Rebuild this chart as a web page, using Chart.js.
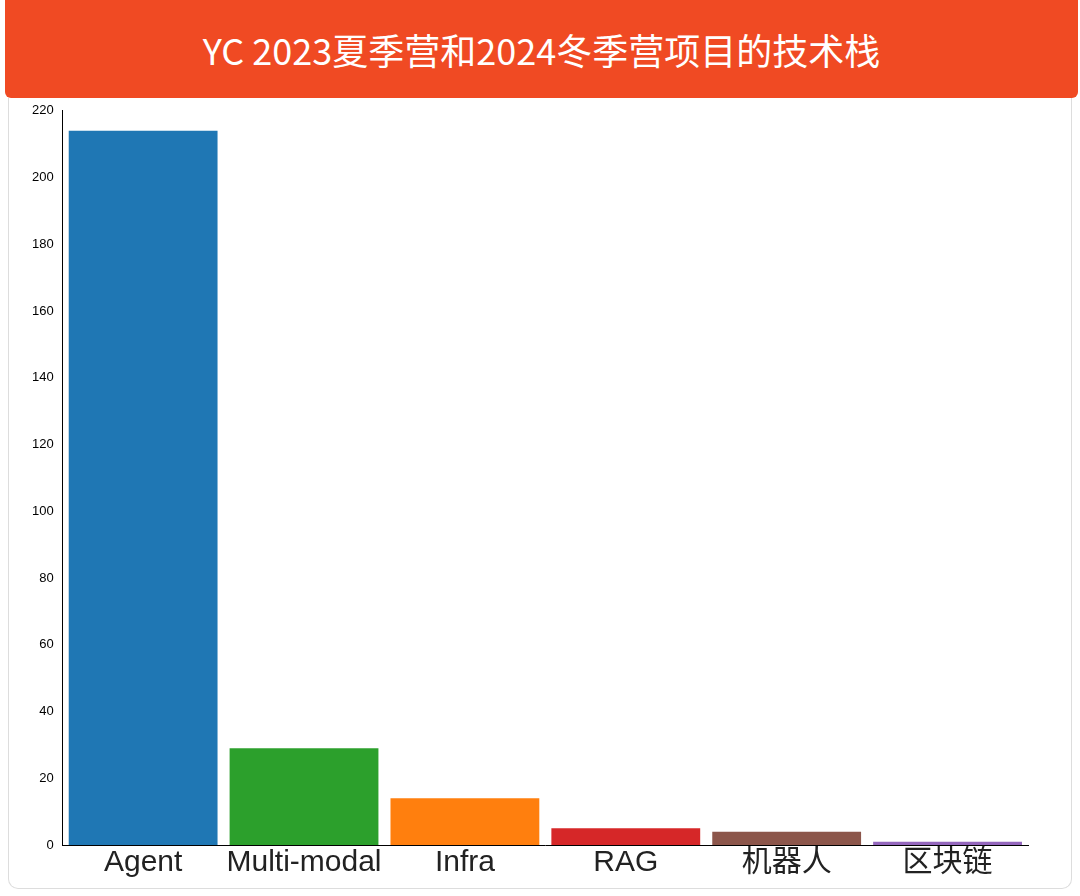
<!DOCTYPE html>
<html><head><meta charset="utf-8">
<script src="https://cdn.jsdelivr.net/npm/chart.js@4"></script>
<style>
body{margin:0;background:#fff;width:1080px;height:896px;overflow:hidden;font-family:"Noto Sans CJK SC",sans-serif}
#title{position:absolute;left:5px;top:0;width:1073px;height:98px;background:#f04a23;border-radius:0 0 6px 6px;color:#fff;font-size:36px;text-align:center;line-height:98px}
#panel{position:absolute;left:8px;top:98px;width:1062px;height:790px;border:1px solid #ddd;border-top:none;border-radius:0 0 10px 10px;background:#fff}
#wrap{position:absolute;left:0;top:100px;width:1080px;height:792px}
</style></head><body>
<div id="title">YC 2023夏季营和2024冬季营项目的技术栈</div>
<div id="panel"></div>
<div id="wrap"><canvas id="c"></canvas></div>
<script>
const categories=["Agent","Multi-modal","Infra","RAG","机器人","区块链"];
const counts=[214,29,14,5,4,1];
const colors=["#1f77b4","#2ca02c","#ff7f0e","#d62728","#8c564b","#9467bd"];
new Chart(document.getElementById('c'),{type:'bar',
data:{labels:categories,datasets:[{data:counts,backgroundColor:colors,categoryPercentage:1,barPercentage:0.925}]},
options:{responsive:true,maintainAspectRatio:false,animation:false,
layout:{padding:{left:29,right:52,top:9,bottom:11}},
plugins:{legend:{display:false},tooltip:{enabled:false}},
scales:{
x:{grid:{display:false,drawTicks:false},border:{color:'#000'},ticks:{color:'#222',padding:0,maxRotation:0,minRotation:0,autoSkip:false,font:{size:30,family:'"Liberation Sans", Arial, "Noto Sans CJK SC", sans-serif'}}},
y:{min:0,max:220,grid:{display:false,drawTicks:true,tickLength:6,color:'#000'},border:{color:'#000'},
ticks:{stepSize:20,color:'#000',font:{size:13,family:'Arial'}}}}}});
</script></body></html>
